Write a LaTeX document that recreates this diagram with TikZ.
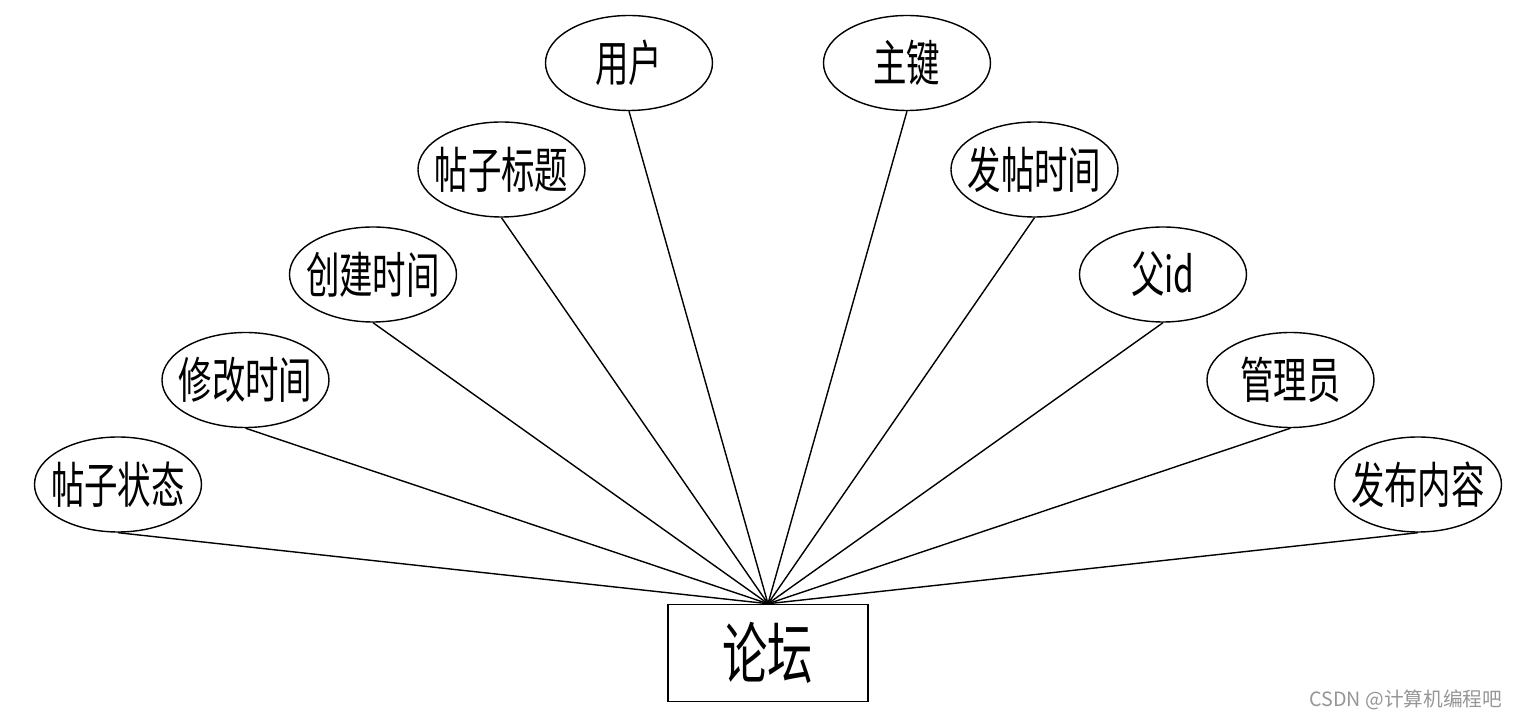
\documentclass[tikz,border=0pt]{standalone}
\usepackage{fontspec}
\newfontfamily\cjkfont[FakeStretch=0.68]{Noto Sans CJK SC}
\newfontfamily\markfont{Noto Sans CJK SC}
\usetikzlibrary{shapes.geometric}
\definecolor{markgray}{RGB}{150,150,150}

\begin{document}
\begin{tikzpicture}[
			attr/.style={
				draw=black,
				ellipse,
				line width=0.8pt,
				fill=white,
				minimum width=3.34cm,
				minimum height=1.9cm,
				inner xsep=-9pt,
				inner ysep=0pt,
				font=\cjkfont\fontsize{28}{30}\selectfont
			},
			entity/.style={
				draw=black,
				rectangle,
				line width=0.9pt,
				fill=white,
				minimum width=4cm,
				minimum height=1.94cm,
				inner sep=0pt,
				font=\cjkfont\fontsize{38}{40}\selectfont
			},
			link/.style={
				draw=black,
				line width=0.8pt
			}
			]
			
			\useasboundingbox (-15.36,-1.28) rectangle (15.02,13.06);
			
			% Entity
			\node[entity] (forum) at (0,0) {论坛};
			
			% Left side
			\node[attr] (state) at (-13.0,3.37) {帖子状态};
			\node[attr] (modtime) at (-10.45,5.46) {修改时间};
			\node[attr] (createtime) at (-7.9,7.57) {创建时间};
			\node[attr] (title) at (-5.33,9.67) {帖子标题};
			\node[attr] (user) at (-2.78,11.8) {用户};
			
			% Right side
			\node[attr] (pkey) at (2.78,11.8) {主键};
			\node[attr] (posttime) at (5.33,9.67) {发帖时间};
			\node[attr] (parentid) at (7.9,7.57) {父id};
			\node[attr] (admin) at (10.45,5.46) {管理员};
			\node[attr] (content) at (13.0,3.37) {发布内容};
			
			% Links
			\draw[link] (state.south) -- (forum.north);
			\draw[link] (modtime.south) -- (forum.north);
			\draw[link] (createtime.south) -- (forum.north);
			\draw[link] (title.south) -- (forum.north);
			\draw[link] (user.south) -- (forum.north);
			\draw[link] (pkey.south) -- (forum.north);
			\draw[link] (posttime.south) -- (forum.north);
			\draw[link] (parentid.south) -- (forum.north);
			\draw[link] (admin.south) -- (forum.north);
			\draw[link] (content.south) -- (forum.north);
			
			% Watermark
			\node[text=markgray,font=\markfont\fontsize{11.2}{13}\selectfont,inner sep=0pt] (mark) at (12.76,-0.94) {CSDN @计算机编程吧};
			
		\end{tikzpicture}
\end{document}
